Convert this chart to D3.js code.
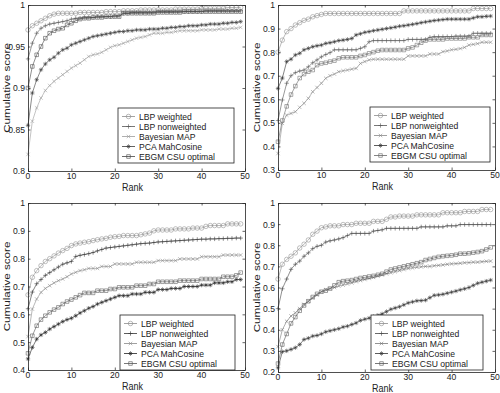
<!DOCTYPE html>
<html>
<head>
<meta charset="utf-8">
<script src="https://cdn.jsdelivr.net/npm/d3@7"></script>
<style>
  body { margin: 0; background: #fff; }
  svg { display: block; }
  text { font-family: "Liberation Sans", Arial, sans-serif; fill: #222; }
</style>
</head>
<body>
<div id="chart"></div>
<script>
// cumulative match scores, rank 1..50 (drawn at x = 0..49)
var ranks = d3.range(0, 50);
var seriesNames = ["LBP weighted", "LBP nonweighted", "Bayesian MAP", "PCA MahCosine", "EBGM CSU optimal"];
var markers = ["circle", "plus", "cross", "star", "square"];

// fb
var fbWeighted = [0.970,0.975,0.978,0.981,0.984,0.987,0.989,0.990,0.990,0.990,
  0.990,0.990,0.991,0.991,0.991,0.991,0.991,0.991,0.992,0.992,
  0.992,0.992,0.993,0.993,0.993,0.993,0.994,0.994,0.994,0.994,
  0.994,0.994,0.994,0.994,0.995,0.995,0.995,0.995,0.995,0.995,
  0.996,0.996,0.996,0.996,0.996,0.996,0.997,0.997,0.997,0.997];
var fbNonweighted = [0.935,0.954,0.966,0.972,0.975,0.977,0.978,0.979,0.980,0.981,
  0.983,0.984,0.984,0.985,0.985,0.985,0.986,0.986,0.986,0.986,
  0.987,0.987,0.990,0.990,0.991,0.991,0.991,0.991,0.991,0.991,
  0.992,0.992,0.992,0.992,0.992,0.992,0.992,0.992,0.992,0.992,
  0.992,0.993,0.993,0.993,0.993,0.993,0.993,0.993,0.993,0.993];
var fbBayesian = [0.820,0.860,0.876,0.888,0.897,0.903,0.908,0.912,0.916,0.920,
  0.924,0.927,0.930,0.934,0.938,0.940,0.941,0.943,0.946,0.949,
  0.951,0.952,0.954,0.956,0.958,0.960,0.961,0.962,0.964,0.966,
  0.966,0.966,0.967,0.967,0.968,0.969,0.969,0.969,0.969,0.969,
  0.970,0.970,0.970,0.970,0.971,0.971,0.971,0.972,0.972,0.973];
var fbPca = [0.855,0.894,0.910,0.922,0.929,0.934,0.937,0.942,0.946,0.948,
  0.952,0.954,0.956,0.958,0.960,0.962,0.963,0.964,0.965,0.966,
  0.967,0.968,0.968,0.969,0.969,0.970,0.970,0.970,0.971,0.971,
  0.971,0.972,0.972,0.973,0.973,0.974,0.974,0.975,0.975,0.975,
  0.976,0.976,0.977,0.977,0.977,0.978,0.978,0.979,0.979,0.980];
var fbEbgm = [0.900,0.926,0.940,0.950,0.960,0.966,0.969,0.971,0.972,0.976,
  0.978,0.981,0.983,0.984,0.984,0.985,0.985,0.985,0.986,0.986,
  0.986,0.986,0.990,0.990,0.990,0.990,0.990,0.990,0.990,0.990,
  0.991,0.991,0.991,0.991,0.991,0.991,0.992,0.992,0.992,0.992,
  0.992,0.992,0.992,0.992,0.992,0.992,0.992,0.992,0.992,0.992];

// fc
var fcWeighted = [0.800,0.851,0.887,0.900,0.915,0.925,0.935,0.940,0.950,0.955,
  0.960,0.964,0.964,0.964,0.964,0.964,0.964,0.964,0.964,0.964,
  0.964,0.964,0.964,0.964,0.964,0.964,0.964,0.964,0.964,0.975,
  0.975,0.975,0.975,0.975,0.975,0.975,0.975,0.975,0.975,0.975,
  0.975,0.975,0.975,0.975,0.975,0.985,0.985,0.985,0.985,0.985];
var fcNonweighted = [0.510,0.597,0.668,0.700,0.713,0.720,0.724,0.738,0.755,0.767,
  0.780,0.790,0.798,0.810,0.810,0.810,0.810,0.810,0.810,0.816,
  0.823,0.844,0.849,0.849,0.849,0.849,0.849,0.849,0.849,0.849,
  0.854,0.854,0.854,0.854,0.854,0.863,0.866,0.866,0.866,0.866,
  0.866,0.868,0.868,0.868,0.868,0.880,0.880,0.880,0.880,0.880];
var fcBayesian = [0.370,0.498,0.533,0.540,0.547,0.566,0.583,0.604,0.632,0.650,
  0.668,0.689,0.700,0.707,0.717,0.721,0.724,0.728,0.731,0.752,
  0.760,0.767,0.770,0.770,0.770,0.770,0.770,0.770,0.770,0.770,
  0.784,0.784,0.784,0.784,0.784,0.792,0.792,0.792,0.802,0.805,
  0.810,0.812,0.815,0.820,0.830,0.833,0.836,0.842,0.842,0.842];
var fcPca = [0.646,0.690,0.760,0.770,0.788,0.795,0.810,0.816,0.823,0.827,
  0.830,0.837,0.840,0.844,0.849,0.851,0.854,0.858,0.873,0.878,
  0.884,0.887,0.891,0.894,0.897,0.900,0.903,0.906,0.910,0.912,
  0.915,0.918,0.921,0.925,0.928,0.931,0.934,0.936,0.938,0.940,
  0.940,0.940,0.940,0.940,0.940,0.945,0.950,0.950,0.952,0.953];
var fcEbgm = [0.420,0.510,0.570,0.620,0.656,0.690,0.707,0.717,0.724,0.745,
  0.752,0.755,0.760,0.764,0.774,0.778,0.778,0.778,0.778,0.784,
  0.788,0.795,0.800,0.806,0.809,0.809,0.809,0.809,0.809,0.809,
  0.816,0.820,0.830,0.840,0.849,0.854,0.854,0.854,0.854,0.858,
  0.858,0.858,0.858,0.858,0.863,0.863,0.863,0.873,0.873,0.873];

// dup I
var d1Weighted = [0.670,0.733,0.757,0.775,0.790,0.800,0.810,0.820,0.829,0.837,
  0.847,0.853,0.856,0.859,0.861,0.865,0.868,0.871,0.873,0.877,
  0.879,0.880,0.883,0.883,0.883,0.883,0.886,0.889,0.892,0.900,
  0.903,0.903,0.903,0.903,0.907,0.907,0.907,0.907,0.910,0.910,
  0.910,0.916,0.919,0.919,0.919,0.919,0.925,0.925,0.925,0.925];
var d1Nonweighted = [0.620,0.680,0.710,0.725,0.740,0.750,0.760,0.770,0.780,0.785,
  0.790,0.808,0.812,0.815,0.818,0.822,0.828,0.833,0.838,0.840,
  0.842,0.844,0.846,0.848,0.850,0.852,0.854,0.855,0.856,0.858,
  0.860,0.861,0.862,0.863,0.864,0.865,0.866,0.867,0.868,0.869,
  0.870,0.870,0.871,0.871,0.872,0.872,0.873,0.873,0.874,0.874];
var d1Bayesian = [0.520,0.619,0.655,0.679,0.693,0.703,0.713,0.721,0.727,0.735,
  0.745,0.751,0.757,0.760,0.765,0.765,0.765,0.772,0.772,0.772,
  0.781,0.781,0.781,0.781,0.781,0.787,0.787,0.787,0.787,0.787,
  0.793,0.793,0.793,0.793,0.793,0.799,0.799,0.799,0.799,0.799,
  0.807,0.807,0.807,0.807,0.807,0.813,0.813,0.813,0.813,0.813];
var d1Pca = [0.440,0.481,0.511,0.526,0.535,0.547,0.556,0.565,0.574,0.581,
  0.586,0.595,0.605,0.613,0.622,0.628,0.637,0.643,0.649,0.655,
  0.661,0.667,0.667,0.667,0.673,0.673,0.673,0.679,0.679,0.679,
  0.689,0.689,0.689,0.693,0.693,0.693,0.700,0.700,0.700,0.700,
  0.705,0.705,0.705,0.713,0.713,0.713,0.717,0.717,0.725,0.725];
var d1Ebgm = [0.460,0.523,0.559,0.581,0.595,0.607,0.617,0.625,0.637,0.646,
  0.653,0.661,0.669,0.677,0.677,0.677,0.685,0.685,0.685,0.691,
  0.691,0.697,0.697,0.697,0.697,0.703,0.703,0.703,0.709,0.709,
  0.717,0.717,0.717,0.717,0.717,0.721,0.721,0.721,0.721,0.721,
  0.727,0.727,0.727,0.727,0.727,0.735,0.735,0.735,0.740,0.750];

// dup II
var d2Weighted = [0.640,0.710,0.733,0.748,0.764,0.787,0.805,0.825,0.852,0.867,
  0.883,0.887,0.892,0.892,0.892,0.898,0.898,0.898,0.904,0.904,
  0.904,0.904,0.913,0.913,0.913,0.923,0.934,0.934,0.938,0.938,
  0.938,0.938,0.944,0.944,0.944,0.944,0.944,0.944,0.954,0.954,
  0.954,0.954,0.954,0.960,0.960,0.960,0.960,0.969,0.969,0.969];
var d2Nonweighted = [0.500,0.594,0.640,0.686,0.710,0.725,0.748,0.764,0.784,0.795,
  0.800,0.815,0.821,0.825,0.830,0.836,0.846,0.856,0.856,0.856,
  0.856,0.856,0.867,0.870,0.873,0.880,0.880,0.880,0.880,0.880,
  0.880,0.880,0.880,0.887,0.887,0.887,0.887,0.887,0.887,0.892,
  0.892,0.892,0.898,0.898,0.898,0.898,0.898,0.898,0.898,0.898];
var d2Bayesian = [0.320,0.400,0.440,0.465,0.480,0.500,0.520,0.535,0.550,0.565,
  0.580,0.590,0.595,0.600,0.607,0.612,0.617,0.622,0.628,0.633,
  0.638,0.643,0.648,0.655,0.660,0.665,0.670,0.675,0.680,0.685,
  0.690,0.693,0.696,0.698,0.700,0.700,0.703,0.705,0.707,0.710,
  0.712,0.713,0.715,0.717,0.718,0.720,0.720,0.722,0.724,0.725];
var d2Pca = [0.220,0.296,0.300,0.307,0.315,0.330,0.354,0.360,0.370,0.373,
  0.380,0.390,0.395,0.400,0.405,0.413,0.417,0.425,0.432,0.444,
  0.450,0.455,0.462,0.468,0.475,0.486,0.497,0.503,0.509,0.518,
  0.527,0.532,0.537,0.538,0.540,0.552,0.563,0.565,0.568,0.573,
  0.578,0.583,0.589,0.594,0.600,0.610,0.620,0.625,0.630,0.635];
var d2Ebgm = [0.240,0.330,0.380,0.430,0.460,0.490,0.515,0.535,0.555,0.570,
  0.580,0.585,0.595,0.610,0.625,0.630,0.632,0.635,0.640,0.645,
  0.648,0.652,0.655,0.660,0.665,0.675,0.685,0.690,0.695,0.700,
  0.705,0.710,0.715,0.720,0.730,0.735,0.740,0.745,0.748,0.750,
  0.752,0.755,0.760,0.760,0.762,0.765,0.768,0.772,0.780,0.790];

var xTicks = [0, 10, 20, 30, 40, 50];

// panel layout (pixel boxes of the four MATLAB axes)
var panels = [
    { left: 28, right: 245, top: 5, bottom: 171, yDomain: [0.8, 1], yTicks: [0.8, 0.85, 0.9, 0.95, 1],
      series: [fbWeighted, fbNonweighted, fbBayesian, fbPca, fbEbgm],
      colors: ["#8c8c8c", "#555", "#9a9a9a", "#3a3a3a", "#444"],
      legend: { x: 118, y: 108, w: 116 } },
    { left: 278, right: 495, top: 5, bottom: 170, yDomain: [0.3, 1], yTicks: [0.3, 0.4, 0.5, 0.6, 0.7, 0.8, 0.9, 1],
      series: [fcWeighted, fcNonweighted, fcBayesian, fcPca, fcEbgm],
      colors: ["#8c8c8c", "#555", "#888", "#333", "#666"],
      legend: { x: 370, y: 107, w: 120 } },
    { left: 28, right: 245, top: 203, bottom: 370, yDomain: [0.4, 1], yTicks: [0.4, 0.5, 0.6, 0.7, 0.8, 0.9, 1],
      series: [d1Weighted, d1Nonweighted, d1Bayesian, d1Pca, d1Ebgm],
      colors: ["#8c8c8c", "#333", "#888", "#222", "#555"],
      legend: { x: 120, y: 315, w: 115 } },
    { left: 278, right: 495, top: 203, bottom: 372, yDomain: [0.2, 1], yTicks: [0.2, 0.3, 0.4, 0.5, 0.6, 0.7, 0.8, 0.9, 1],
      series: [d2Weighted, d2Nonweighted, d2Bayesian, d2Pca, d2Ebgm],
      colors: ["#8c8c8c", "#444", "#777", "#333", "#555"],
      legend: { x: 371, y: 315, w: 112 } }
];

var width = 500, height = 393,
    stretch = 1.15;   // the scanned figure is taller than wide: text is stretched vertically
var tickFmt = d3.format("~g");

var svg = d3.select("#chart").append("svg")
    .attr("width", width)
    .attr("height", height);

/**
 * Path for one marker centred at 0,0
 */
function markerPath(kind) {
    var s = 2.2;
    if (kind === "circle") {
        return d3.symbol(d3.symbolCircle, 16)();
    } else if (kind === "plus") {
        return "M" + (-s) + ",0H" + s + "M0," + (-s) + "V" + s;
    } else if (kind === "cross") {
        var c = s * 0.8;
        return "M" + (-c) + "," + (-c) + "L" + c + "," + c + "M" + (-c) + "," + c + "L" + c + "," + (-c);
    } else if (kind === "star") {
        var k = s * 0.7;
        return "M" + (-s) + ",0H" + s + "M0," + (-s) + "V" + s +
            "M" + (-k) + "," + (-k) + "L" + k + "," + k + "M" + (-k) + "," + k + "L" + k + "," + (-k);
    }
    return "M-1.8,-1.8H1.8V1.8H-1.8Z";
}

/**
 * Horizontal text with its centre line at cy, optionally stretched vertically
 */
function stretchedText(parent, x, cy, size, anchor, str, sy) {
    return parent.append("text")
        .attr("transform", "translate(" + x + "," + cy + ") scale(1," + (sy || stretch) + ")")
        .attr("dy", "0.35em")
        .attr("text-anchor", anchor)
        .style("font-size", size + "px")
        .text(str);
}

function drawPanel(p) {
    var x = d3.scaleLinear().domain([0, 50]).range([p.left, p.right]),
        y = d3.scaleLinear().domain(p.yDomain).range([p.bottom, p.top]),
        g = svg.append("g");

    // lines and markers
    p.series.forEach(function (vals, i) {
        var pts = ranks.map(function (r) { return [r, vals[r]]; });
        var line = d3.line()
            .x(function (d) { return x(d[0]); })
            .y(function (d) { return y(d[1]); });
        g.append("path")
            .attr("d", line(pts))
            .attr("fill", "none")
            .attr("stroke", p.colors[i])
            .attr("stroke-width", 0.6);
        g.selectAll(null)
            .data(pts)
            .enter().append("path")
            .attr("transform", function (d) { return "translate(" + x(d[0]) + "," + y(d[1]) + ")"; })
            .attr("d", markerPath(markers[i]))
            .attr("fill", "none")
            .attr("stroke", p.colors[i])
            .attr("stroke-width", 0.55);
    });

    // axes box with inward ticks, labels drawn separately
    var axes = [
        d3.axisBottom(x).tickValues(xTicks),
        d3.axisLeft(y).tickValues(p.yTicks),
        d3.axisTop(x).tickValues(xTicks),
        d3.axisRight(y).tickValues(p.yTicks)
    ];
    var pos = [
        "translate(0," + p.bottom + ")",
        "translate(" + p.left + ",0)",
        "translate(0," + p.top + ")",
        "translate(" + p.right + ",0)"
    ];
    axes.forEach(function (ax, i) {
        var a = g.append("g")
            .attr("transform", pos[i])
            .call(ax.tickSizeInner(-2.5).tickSizeOuter(0).tickFormat(""));
        a.select(".domain").attr("stroke", "#222").attr("stroke-width", 0.8);
        a.selectAll(".tick line").attr("stroke", "#222").attr("stroke-width", 0.7);
    });

    // tick labels
    xTicks.forEach(function (t) {
        stretchedText(g, x(t), p.bottom + 4.5, 8.6, "middle", tickFmt(t));
    });
    p.yTicks.forEach(function (t) {
        stretchedText(g, p.left - 3, y(t), 8.6, "end", tickFmt(t));
    });

    // axis titles
    stretchedText(g, (p.left + p.right) / 2 - 4, p.bottom + 16, 9, "middle", "Rank");
    g.append("text")
        .attr("transform", "translate(" + (p.left - 18.5) + "," + ((p.top + p.bottom) / 2) +
            ") scale(1,1.25) rotate(-90)")
        .attr("text-anchor", "middle")
        .style("font-size", "9.3px")
        .text("Cumulative score");

    // legend
    var lg = g.append("g").attr("transform", "translate(" + p.legend.x + "," + p.legend.y + ")");
    lg.append("rect")
        .attr("width", p.legend.w)
        .attr("height", 55)
        .attr("fill", "#fff")
        .attr("stroke", "#222")
        .attr("stroke-width", 0.8);
    seriesNames.forEach(function (name, i) {
        var ly = 8.5 + i * 10;
        lg.append("line")
            .attr("x1", 4).attr("x2", 17)
            .attr("y1", ly).attr("y2", ly)
            .attr("stroke", p.colors[i])
            .attr("stroke-width", 0.8);
        lg.append("path")
            .attr("transform", "translate(10.5," + ly + ")")
            .attr("d", markerPath(markers[i]))
            .attr("fill", "none")
            .attr("stroke", p.colors[i])
            .attr("stroke-width", 0.6);
        stretchedText(lg, 21, ly, 8.6, "start", name, 1);
    });
}

panels.forEach(drawPanel);
</script>
</body>
</html>
